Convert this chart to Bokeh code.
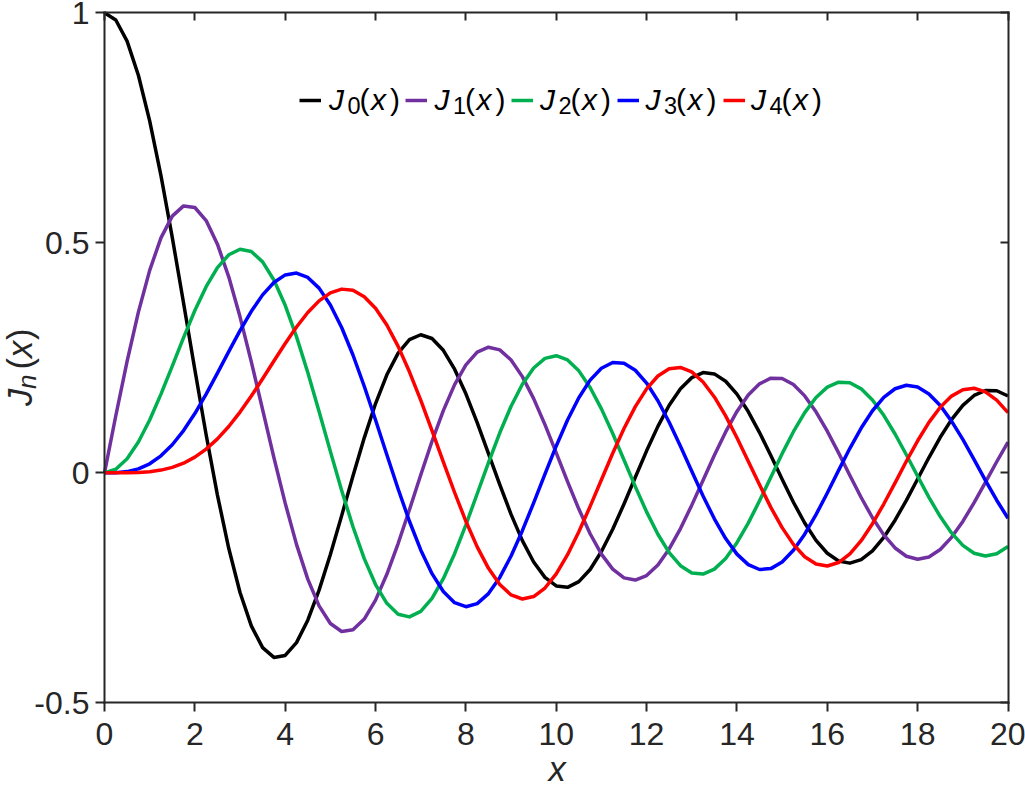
from bokeh.plotting import figure
from bokeh.models import (Range1d, FixedTicker, LinearAxis, Label, Legend, LegendItem,
                          CustomJSTickFormatter)
from bokeh.core.properties import value
from bokeh.embed import file_html
from bokeh.resources import INLINE
import math

# ---------------- data ----------------
x = [0.0, 0.25, 0.5, 0.75, 1.0, 1.25, 1.5, 1.75, 2.0, 2.25, 2.5, 2.75, 3.0, 3.25, 3.5, 3.75,
     4.0, 4.25, 4.5, 4.75, 5.0, 5.25, 5.5, 5.75, 6.0, 6.25, 6.5, 6.75, 7.0, 7.25, 7.5, 7.75,
     8.0, 8.25, 8.5, 8.75, 9.0, 9.25, 9.5, 9.75, 10.0, 10.25, 10.5, 10.75, 11.0, 11.25, 11.5,
     11.75, 12.0, 12.25, 12.5, 12.75, 13.0, 13.25, 13.5, 13.75, 14.0, 14.25, 14.5, 14.75, 15.0,
     15.25, 15.5, 15.75, 16.0, 16.25, 16.5, 16.75, 17.0, 17.25, 17.5, 17.75, 18.0, 18.25, 18.5,
     18.75, 19.0, 19.25, 19.5, 19.75, 20.0]

j0 = [1.0000, 0.9844, 0.9385, 0.8642, 0.7652, 0.6459, 0.5118, 0.3690, 0.2239, 0.0827, -0.0484,
      -0.1641, -0.2601, -0.3328, -0.3801, -0.4014, -0.3971, -0.3692, -0.3205, -0.2551, -0.1776,
      -0.0931, -0.0068, 0.0760, 0.1506, 0.2131, 0.2601, 0.2895, 0.3001, 0.2920, 0.2663, 0.2252,
      0.1717, 0.1092, 0.0419, -0.0259, -0.0903, -0.1474, -0.1939, -0.2273, -0.2459, -0.2490,
      -0.2366, -0.2101, -0.1712, -0.1227, -0.0677, -0.0097, 0.0477, 0.1009, 0.1469, 0.1829,
      0.2069, 0.2178, 0.2150, 0.1990, 0.1711, 0.1331, 0.0875, 0.0374, -0.0142, -0.0641, -0.1092,
      -0.1469, -0.1749, -0.1917, -0.1964, -0.1889, -0.1699, -0.1406, -0.1031, -0.0598, -0.0134,
      0.0332, 0.0772, 0.1157, 0.1466, 0.1681, 0.1789, 0.1784, 0.1670]

j1 = [0.0000, 0.1240, 0.2423, 0.3492, 0.4401, 0.5106, 0.5579, 0.5802, 0.5767, 0.5484, 0.4971,
      0.4260, 0.3391, 0.2411, 0.1374, 0.0332, -0.0660, -0.1556, -0.2311, -0.2892, -0.3276,
      -0.3450, -0.3414, -0.3179, -0.2767, -0.2207, -0.1538, -0.0803, -0.0047, 0.0686, 0.1352,
      0.1916, 0.2346, 0.2622, 0.2731, 0.2672, 0.2453, 0.2091, 0.1613, 0.1048, 0.0435, -0.0190,
      -0.0789, -0.1325, -0.1768, -0.2093, -0.2284, -0.2331, -0.2234, -0.2004, -0.1655, -0.1212,
      -0.0703, -0.0161, 0.0381, 0.0889, 0.1334, 0.1689, 0.1934, 0.2057, 0.2051, 0.1919, 0.1672,
      0.1326, 0.0904, 0.0433, -0.0058, -0.0537, -0.0977, -0.1350, -0.1634, -0.1814, -0.1880,
      -0.1829, -0.1666, -0.1403, -0.1057, -0.0650, -0.0209, 0.0240, 0.0668]

j2 = [0.0000, 0.0078, 0.0306, 0.0671, 0.1149, 0.1711, 0.2321, 0.2940, 0.3528, 0.4047, 0.4461,
      0.4739, 0.4861, 0.4811, 0.4586, 0.4191, 0.3641, 0.2960, 0.2179, 0.1334, 0.0466, -0.0383,
      -0.1173, -0.1866, -0.2429, -0.2837, -0.3074, -0.3133, -0.3014, -0.2731, -0.2303, -0.1758,
      -0.1130, -0.0456, 0.0223, 0.0870, 0.1448, 0.1926, 0.2279, 0.2488, 0.2546, 0.2453, 0.2216,
      0.1854, 0.1390, 0.0854, 0.0279, -0.0300, -0.0849, -0.1336, -0.1734, -0.2019, -0.2177,
      -0.2202, -0.2094, -0.1861, -0.1520, -0.1094, -0.0609, -0.0095, 0.0416, 0.0893, 0.1308,
      0.1637, 0.1862, 0.1970, 0.1957, 0.1825, 0.1584, 0.1250, 0.0844, 0.0393, -0.0075, -0.0533,
      -0.0952, -0.1307, -0.1578, -0.1748, -0.1810, -0.1760, -0.1603]

j3 = [0.0000, 0.0003, 0.0026, 0.0085, 0.0196, 0.0369, 0.0610, 0.0918, 0.1289, 0.1711, 0.2166,
      0.2634, 0.3091, 0.3510, 0.3868, 0.4138, 0.4302, 0.4342, 0.4247, 0.4015, 0.3648, 0.3158,
      0.2561, 0.1882, 0.1148, 0.0391, -0.0353, -0.1053, -0.1676, -0.2192, -0.2581, -0.2823,
      -0.2911, -0.2843, -0.2626, -0.2274, -0.1809, -0.1258, -0.0653, -0.0028, 0.0584, 0.1147,
      0.1633, 0.2015, 0.2273, 0.2397, 0.2381, 0.2229, 0.1951, 0.1567, 0.1100, 0.0578, 0.0033,
      -0.0504, -0.1001, -0.1430, -0.1768, -0.1996, -0.2102, -0.2083, -0.1940, -0.1685, -0.1335,
      -0.0910, -0.0438, 0.0052, 0.0532, 0.0973, 0.1349, 0.1639, 0.1827, 0.1903, 0.1863, 0.1712,
      0.1461, 0.1124, 0.0725, 0.0287, -0.0163, -0.0596, -0.0989]

j4 = [0.0000, 0.0000, 0.0002, 0.0008, 0.0025, 0.0059, 0.0118, 0.0209, 0.0340, 0.0515, 0.0738,
      0.1007, 0.1320, 0.1669, 0.2044, 0.2430, 0.2811, 0.3169, 0.3484, 0.3738, 0.3912, 0.3993,
      0.3967, 0.3829, 0.3576, 0.3213, 0.2748, 0.2196, 0.1578, 0.0916, 0.0238, -0.0428, -0.1054,
      -0.1611, -0.2077, -0.2430, -0.2655, -0.2743, -0.2691, -0.2505, -0.2196, -0.1781, -0.1283,
      -0.0730, -0.0150, 0.0424, 0.0963, 0.1438, 0.1825, 0.2104, 0.2262, 0.2291, 0.2193, 0.1974,
      0.1649, 0.1237, 0.0762, 0.0253, -0.0261, -0.0752, -0.1192, -0.1556, -0.1825, -0.1984,
      -0.2026, -0.1951, -0.1763, -0.1476, -0.1107, -0.0679, -0.0218, 0.0250, 0.0696, 0.1096,
      0.1425, 0.1667, 0.1806, 0.1838, 0.1760, 0.1579, 0.1307]

series = [j0, j1, j2, j3, j4]
subscripts = ["0", "1", "2", "3", "4"]
colors = ["#000000", "#7030A0", "#00B050", "#0000FF", "#FF0000"]

x_ticks = [0, 2, 4, 6, 8, 10, 12, 14, 16, 18, 20]
y_ticks = [-0.5, 0, 0.5, 1]
y_tick_labels = ["-0.5", "0", "0.5", "1"]

# ---------------- layout ----------------
FONT = "Liberation Sans"
AX = "#262626"
CW, CH = 1025, 787                      # canvas size (px)
FL, FT, FW, FH = 104, 12.3, 903.5, 690  # where the data box sits in the canvas (px)
XMIN, XMAX, YMIN, YMAX = 0, 20, -0.5, 1
BASE_K = 0.36                           # baseline correction of Label text (in em)


def dx(px):
    return XMIN + (px - FL) / FW * (XMAX - XMIN)


def dy(py):
    return YMAX - (py - FT) / FH * (YMAX - YMIN)


# the plotting frame covers the whole canvas; the axes are pinned to the data box
p = figure(frame_width=CW, frame_height=CH,
           x_range=Range1d(dx(0), dx(CW)), y_range=Range1d(dy(CH), dy(0)),
           x_axis_location=None, y_axis_location=None,
           output_backend="svg", toolbar_location=None, min_border=0,
           background_fill_color="white", border_fill_color="white")
p.outline_line_color = None
p.xgrid.visible = False
p.ygrid.visible = False


def make_axis(loc, bounds, ticks, tick_in, tick_out, formatter=None, overrides=None,
              standoff=5, labels=True):
    a = LinearAxis(fixed_location=loc, bounds=bounds, ticker=FixedTicker(ticks=ticks),
                   axis_line_color=AX, axis_line_width=2, axis_line_cap="square",
                   major_tick_line_color=AX, major_tick_line_width=2,
                   major_tick_in=tick_in, major_tick_out=tick_out,
                   minor_tick_line_color=None, major_label_standoff=standoff,
                   major_label_text_font=FONT,
                   major_label_text_color=AX if labels else None,
                   major_label_text_font_size="32px" if labels else "1px")
    if formatter is not None:
        a.formatter = formatter
    if overrides is not None:
        a.major_label_overrides = overrides
    return a


blank = CustomJSTickFormatter(code="return ''")
p.add_layout(make_axis(YMIN, (XMIN, XMAX), x_ticks, 0, 9, standoff=11), "below")
p.add_layout(make_axis(XMIN, (YMIN, YMAX), y_ticks, 0, 9,
                       formatter=CustomJSTickFormatter(code="return String(tick)"),
                       overrides=dict(zip(y_ticks, y_tick_labels)), standoff=6), "left")
p.add_layout(make_axis(YMAX, (XMIN, XMAX), x_ticks, 8, 0, formatter=blank, standoff=0,
                       labels=False), "above")
p.add_layout(make_axis(XMAX, (YMIN, YMAX), y_ticks, 8, 0, formatter=blank, standoff=0,
                       labels=False), "right")

renderers = []
for ys, col in zip(series, colors):
    r = p.line(x, ys, line_color=col, line_width=3.5, line_join="round")
    renderers.append(r)

# legend keys (horizontal, no box); the styled label texts are placed below
leg = Legend(items=[LegendItem(label=value(""), renderers=[r]) for r in renderers],
             orientation="horizontal", location=(299, CH - 109.5),
             glyph_width=22, glyph_height=20, label_width=84, label_height=20,
             label_standoff=0, spacing=0, padding=0, margin=0,
             border_line_color=None, background_fill_alpha=0,
             label_text_font_size="1px")
p.add_layout(leg)


def put(text, px, py, size, italic=False, angle=0.0, color="#000000", align="left"):
    # px, py: wanted position of the text's baseline origin on the canvas
    k = BASE_K * size
    px = px - k * math.sin(angle)
    py = py - k * math.cos(angle)
    p.add_layout(Label(x=dx(px), y=dy(py), text=text, text_font=FONT,
                       text_font_size="%gpx" % size,
                       text_font_style="italic" if italic else "normal",
                       text_color=color, text_align=align, text_baseline="alphabetic",
                       angle=angle))


# legend label texts:  J_n(x)
for i, sub in enumerate(subscripts):
    s = 300 + 105.5 * i
    put("J", s + 28.5, 110, 30, italic=True)
    put(sub, s + 47, 113.5, 23.5)
    put("(", s + 59, 110, 30)
    put("x", s + 70.5, 110, 30, italic=True)
    put(")", s + 89.5, 110, 30)

# y axis label  J_n(x)  (rotated)
R = math.pi / 2
YB = 32
put("J", YB, 405.5, 34.5, italic=True, angle=R, color=AX)
put("n", YB + 4, 388.5, 26, italic=True, angle=R, color=AX)
put("(", YB, 369, 34.5, angle=R, color=AX)
put("x", YB, 357.5, 34.5, italic=True, angle=R, color=AX)
put(")", YB, 339.5, 34.5, angle=R, color=AX)

# x axis label
put("x", 556.5, 781, 34.5, italic=True, color=AX, align="center")

open("out.html", "w").write(file_html(p, INLINE))
